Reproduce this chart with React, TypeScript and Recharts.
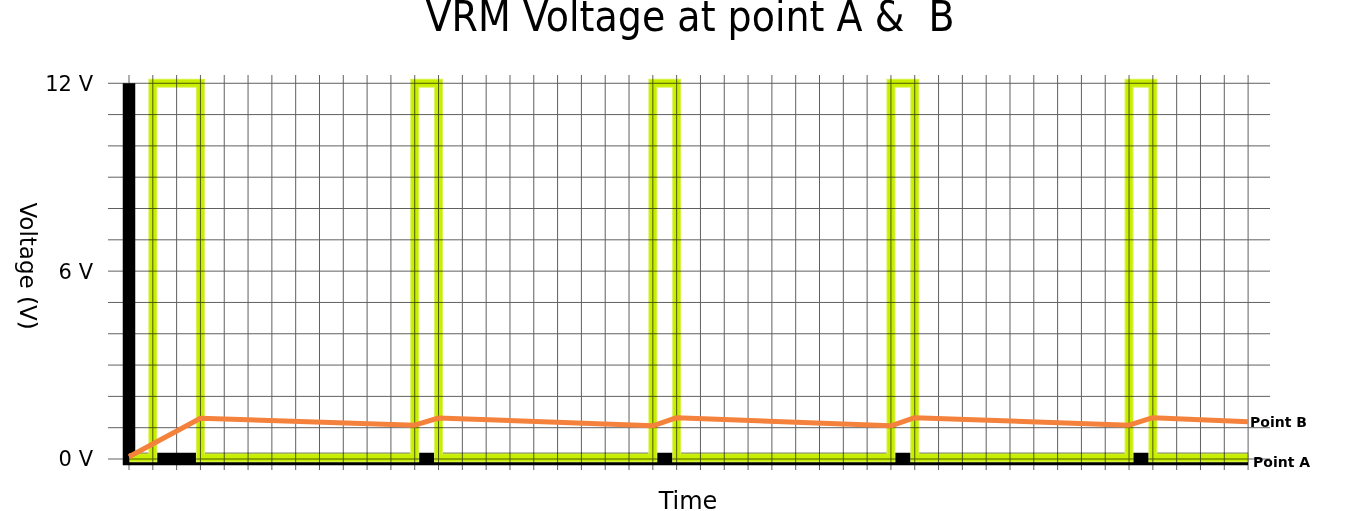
import React from "react";
import { LineChart, Line, XAxis, YAxis, CartesianGrid } from "recharts";

// Point A: switching node square wave (volts over time units)
const PULSE_TIME = [0, 1, 1, 3, 3, 12, 12, 13, 13, 22, 22, 23, 23, 32, 32, 33, 33, 42, 42, 43, 43, 47];
const PULSE_VOLTS = [
  0.04, 0.04, 12, 12, 0.04, 0.04, 12, 12, 0.04, 0.04, 12, 12, 0.04, 0.04, 12, 12, 0.04, 0.04, 12, 12,
  0.04, 0.04,
];

// black ground trace behind the pulses
const GROUND_TIME = [0, 0, 47];
const GROUND_VOLTS = [12, 0, 0];

// Point B: filtered output
const OUTPUT_TIME = [0, 3, 12, 13, 22, 23, 32, 33, 42, 43, 47];
const OUTPUT_VOLTS = [0.07, 1.3, 1.08, 1.31, 1.06, 1.32, 1.06, 1.32, 1.08, 1.32, 1.19];

const TIME_TICKS = Array.from({ length: 48 }, (_, i) => i);
const VOLT_TICKS = [0, 1, 2, 3, 4, 5, 6, 7, 8, 9, 10, 11, 12];
const VOLT_LABELS: Record<number, string> = { 0: "0 V", 6: "6 V", 12: "12 V" };

const zip = (t: number[], v: number[]) => t.map((time, i) => ({ t: time, v: v[i] }));

const pulseData = zip(PULSE_TIME, PULSE_VOLTS);
const groundData = zip(GROUND_TIME, GROUND_VOLTS);
const outputData = zip(OUTPUT_TIME, OUTPUT_VOLTS);

const FONT = "'DejaVu Sans', sans-serif";

const endLabel = (text: string, last: number, dx: number, dy: number) => (props: any) => {
  if (props.index !== last) return null;
  return (
    <text
      x={props.x + dx}
      y={props.y + dy}
      fontFamily={FONT}
      fontSize={14}
      fontWeight="bold"
      fill="#000"
    >
      {text}
    </text>
  );
};

export default function App() {
  return (
    <div style={{ position: "absolute", left: 0, top: 0, width: 1350, height: 511, background: "#fff" }}>
      <style>{`.recharts-cartesian-grid { mix-blend-mode: multiply; }`}</style>
      <LineChart width={1350} height={511} margin={{ top: 75, right: 80, bottom: 40, left: 0 }}>
        <XAxis
          dataKey="t"
          type="number"
          domain={[-0.882, 47.92]}
          allowDataOverflow
          ticks={TIME_TICKS}
          interval={0}
          tick={() => <g />}
          tickLine={false}
          axisLine={false}
          height={1}
        />
        <YAxis
          type="number"
          domain={[-0.351, 12.264]}
          allowDataOverflow
          ticks={VOLT_TICKS}
          interval={0}
          width={108}
          tickLine={false}
          axisLine={false}
          tickSize={0}
          tickMargin={15}
          tickFormatter={(v: number) => VOLT_LABELS[v] ?? ""}
          tick={{ fill: "#000", fontSize: 21, fontFamily: FONT }}
        />
        <Line
          data={groundData}
          dataKey="v"
          type="linear"
          stroke="#000"
          strokeWidth={12.5}
          strokeLinecap="butt"
          strokeLinejoin="miter"
          dot={false}
          activeDot={false}
          isAnimationActive={false}
          zIndex={100}
        />
        <Line
          data={pulseData}
          dataKey="v"
          type="linear"
          stroke="#dcf25a"
          strokeWidth={9}
          strokeLinecap="butt"
          strokeLinejoin="miter"
          dot={false}
          activeDot={false}
          isAnimationActive={false}
          zIndex={200}
        />
        <Line
          data={pulseData}
          dataKey="v"
          type="linear"
          stroke="#c9ef00"
          strokeWidth={7}
          strokeLinecap="butt"
          strokeLinejoin="miter"
          dot={false}
          activeDot={false}
          isAnimationActive={false}
          label={endLabel("Point A", pulseData.length - 1, 5, 9)}
          zIndex={210}
        />
        <CartesianGrid stroke="#606060" strokeWidth={1} syncWithTicks zIndex={300} />
        <Line
          data={outputData}
          dataKey="v"
          type="linear"
          stroke="#f5823c"
          strokeWidth={5}
          strokeLinejoin="round"
          dot={false}
          activeDot={false}
          isAnimationActive={false}
          label={endLabel("Point B", outputData.length - 1, 2, 5)}
          zIndex={400}
        />
      </LineChart>
      <svg
        width={1350}
        height={511}
        style={{ position: "absolute", left: 0, top: 0, pointerEvents: "none" }}
      >
        <text
          transform="translate(690, 31) scale(1, 1.1)"
          textAnchor="middle"
          fontFamily={FONT}
          fontSize={38}
          fill="#000"
          style={{ whiteSpace: "pre" }}
        >
          {"VRM Voltage at point A &  B"}
        </text>
        <text
          x={688}
          y={509}
          textAnchor="middle"
          fontFamily={FONT}
          fontSize={24}
          fill="#000"
        >
          Time
        </text>
        <text
          transform="translate(28, 266) rotate(90)"
          textAnchor="middle"
          dominantBaseline="central"
          fontFamily={FONT}
          fontSize={23}
          fill="#000"
        >
          Voltage (V)
        </text>
      </svg>
    </div>
  );
}
